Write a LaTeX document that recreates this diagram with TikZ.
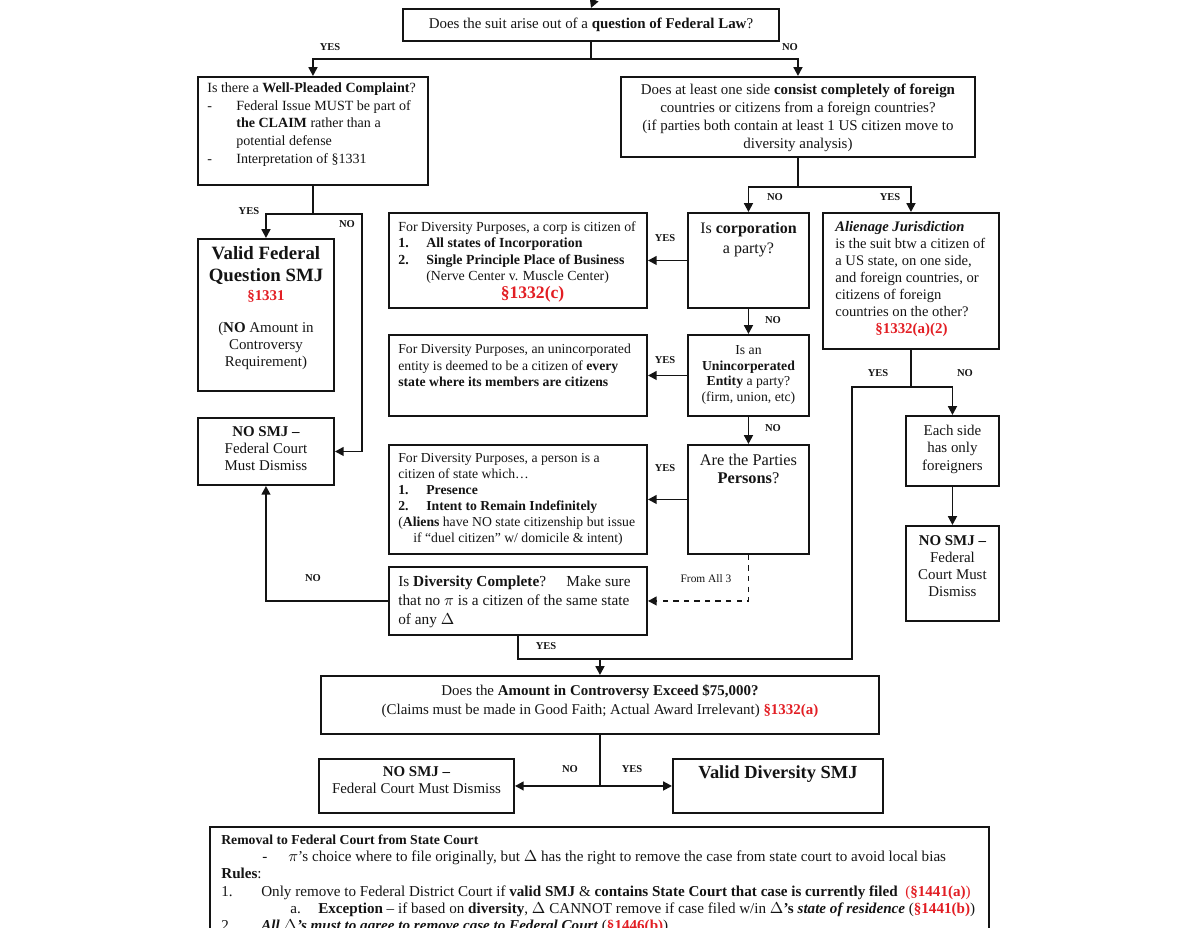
\documentclass[tikz,border=0pt]{standalone}
\usepackage{fontspec}
\setmainfont{Liberation Serif}
\usepackage{tikz}
\usetikzlibrary{positioning, arrows.meta}
\definecolor{inkColor}{RGB}{20, 20, 20}
\definecolor{lawRed}{RGB}{226, 30, 36}
\tikzset{
    flow_box/.style={
        draw=inkColor,
        line width=1.1pt,
        anchor=north west,
        inner sep=0pt
    },
    box_size/.style 2 args={
        minimum width=#1*0.02cm,
        minimum height=#2*0.02cm
    },
    box_text/.style={
        inner sep=0pt,
        text=inkColor,
        align=center,
        font=\fontsize{8.5}{9.8}\selectfont
    },
    flow_line/.style={
        draw=inkColor,
        line width=1.1pt
    },
    flow_edge/.style={
        flow_line,
        -{Triangle[length=5pt,width=5pt]}
    },
    answer_label/.style={
        inner sep=0pt,
        text=inkColor,
        font=\fontsize{6}{7}\selectfont\bfseries
    }
}

\begin{document}
\begin{tikzpicture}[x=0.02cm, y=-0.02cm]
    \clip (0,0) rectangle (1200,927);

    % first questions
    \coordinate (entry) at (598,-10);
    \node[flow_box, box_size={376}{32}] (fed_q) at (402,8) {};
    \node[box_text] at (fed_q.center) {Does the suit arise out of a \textbf{question of Federal Law}?};

    \node[flow_box, box_size={230}{108}] (wpc) at (197,76) {};
    \node[box_text, align=left, font=\fontsize{8}{10.2}\selectfont, below right=0.12cm and 0.2cm of wpc.north west] {Is there a \textbf{Well-Pleaded Complaint}?\\
        \makebox[0.58cm][l]{-}Federal Issue MUST be part of\\
        \hspace*{0.58cm}\textbf{the CLAIM} rather than a\\
        \hspace*{0.58cm}potential defense\\
        \makebox[0.58cm][l]{-}Interpretation of §1331};

    \node[flow_box, box_size={354}{80}] (foreign_q) at (620,76) {};
    \node[box_text, font=\fontsize{8.5}{10.2}\selectfont, below=0.16cm of foreign_q.north] {Does at least one side \textbf{consist completely of foreign}\\
        countries or citizens from a foreign countries?\\
        (if parties both contain at least 1 US citizen move to\\
        diversity analysis)};

    % federal question side
    \node[flow_box, box_size={136}{152}] (valid_fed) at (197,238) {};
    \node[box_text, below=0.16cm of valid_fed.north] {{\fontsize{10.7}{12.5}\selectfont\bfseries Valid Federal}\\[3pt]
        {\fontsize{10.7}{12.5}\selectfont\bfseries Question SMJ}\\[1pt]
        \textcolor{lawRed}{\textbf{§1331}}\\[8pt]
        (\textbf{NO} Amount in\\
        Controversy\\
        Requirement)};

    \node[flow_box, box_size={136}{67}] (no_smj_left) at (197,417) {};
    \node[box_text, below=0.18cm of no_smj_left.north] {\textbf{NO SMJ --}\\ Federal Court\\ Must Dismiss};

    % citizenship rules
    \node[flow_box, box_size={258}{95}] (corp_info) at (388,212) {};
    \node[box_text, align=left, font=\fontsize{7.9}{9.4}\selectfont, below right=0.18cm and 0.2cm of corp_info.north west] {For Diversity Purposes, a corp is citizen of\\
        \makebox[0.56cm][l]{\textbf{1.}}\textbf{All states of Incorporation}\\
        \makebox[0.56cm][l]{\textbf{2.}}\textbf{Single Principle Place of Business}\\
        \hspace*{0.56cm}(Nerve Center v. Muscle Center)\\[1pt]
        \hspace*{2.05cm}{\fontsize{10}{11}\selectfont\textcolor{lawRed}{\textbf{§1332(c)}}}};

    \node[flow_box, box_size={258}{81}] (unincorp_info) at (388,334) {};
    \node[box_text, align=left, font=\fontsize{7.8}{9.4}\selectfont, below right=0.2cm and 0.2cm of unincorp_info.north west] {For Diversity Purposes, an unincorporated\\
        entity is deemed to be a citizen of \textbf{every}\\
        \textbf{state where its members are citizens}};

    \node[flow_box, box_size={258}{109}] (person_info) at (388,444) {};
    \node[box_text, align=left, font=\fontsize{7.8}{9.1}\selectfont, below right=0.18cm and 0.2cm of person_info.north west] {For Diversity Purposes, a person is a\\
        citizen of state which\ldots\\
        \makebox[0.56cm][l]{\textbf{1.}}\textbf{Presence}\\
        \makebox[0.56cm][l]{\textbf{2.}}\textbf{Intent to Remain Indefinitely}\\
        (\textbf{Aliens} have NO state citizenship but issue\\
        \hspace*{0.3cm}if ``duel citizen'' w/ domicile \& intent)};

    \node[flow_box, box_size={258}{68}] (div_complete) at (388,566) {};
    \node[box_text, align=left, font=\fontsize{8.7}{10.8}\selectfont, below right=0.2cm and 0.2cm of div_complete.north west] {Is \textbf{Diversity Complete}? \quad Make sure\\
        that no $\pi$ is a citizen of the same state\\
        of any $\Delta$};

    % party questions
    \node[flow_box, box_size={121}{95}] (corp_q) at (687,212) {};
    \node[box_text, font=\fontsize{9.1}{11.4}\selectfont, below=0.2cm of corp_q.north] {Is \textbf{corporation}\\ a party?};

    \node[flow_box, box_size={121}{81}] (unincorp_q) at (687,334) {};
    \node[box_text, font=\fontsize{7.8}{9}\selectfont, below=0.22cm of unincorp_q.north] {Is an\\ \textbf{Unincorperated}\\ \textbf{Entity} a party?\\ (firm, union, etc)};

    \node[flow_box, box_size={121}{109}] (persons_q) at (687,444) {};
    \node[box_text, font=\fontsize{9.3}{10.4}\selectfont, below=0.2cm of persons_q.north] {Are the Parties\\ \textbf{Persons}?};

    % alienage side
    \node[flow_box, box_size={176}{136}] (alienage) at (822,212) {};
    \node[box_text, align=left, font=\fontsize{8.3}{9.7}\selectfont, below right=0.18cm and 0.26cm of alienage.north west] {\textbf{\textit{Alienage Jurisdiction}}\\
        is the suit btw a citizen of\\
        a US state, on one side,\\
        and foreign countries, or\\
        citizens of foreign\\
        countries on the other?\\
        \hspace*{0.8cm}{\fontsize{8.5}{9.7}\selectfont\textcolor{lawRed}{\textbf{§1332(a)(2)}}}};

    \node[flow_box, box_size={93}{70}] (each_side) at (905,415) {};
    \node[box_text, below=0.2cm of each_side.north] {Each side\\ has only\\ foreigners};

    \node[flow_box, box_size={93}{95}] (no_smj_right) at (905,525) {};
    \node[box_text, below=0.2cm of no_smj_right.north] {\textbf{NO SMJ --}\\ Federal\\ Court Must\\ Dismiss};

    % amount in controversy
    \node[flow_box, box_size={558}{58}] (amount) at (320,675) {};
    \node[box_text, font=\fontsize{8.5}{10.8}\selectfont, below=0.18cm of amount.north] {Does the \textbf{Amount in Controversy Exceed \$75,000?}\\
        (Claims must be made in Good Faith; Actual Award Irrelevant) \textcolor{lawRed}{\textbf{§1332(a)}}};

    \node[flow_box, box_size={195}{54}] (no_smj_bottom) at (318,758) {};
    \node[box_text, below=0.16cm of no_smj_bottom.north] {\textbf{NO SMJ --}\\ Federal Court Must Dismiss};

    \node[flow_box, box_size={210}{54}] (valid_div) at (672,758) {};
    \node[box_text, font=\fontsize{10.5}{12.5}\selectfont\bfseries, below=0.14cm of valid_div.north] {Valid Diversity SMJ};

    % removal notes
    \node[flow_box, box_size={779}{150}] (removal) at (209,826) {};
    \node[box_text, align=left, anchor=north west, font=\fontsize{8.6}{9.9}\selectfont] (removal_text) at (221,834) {{\fontsize{7.8}{9.9}\selectfont\textbf{Removal to Federal Court from State Court}}\\
        \hspace*{0.82cm}\makebox[0.52cm][l]{-}$\pi$'s choice where to file originally, but $\Delta$ has the right to remove the case from state court to avoid local bias\\
        \textbf{Rules}:\\
        \makebox[0.8cm][l]{1.}Only remove to Federal District Court if \textbf{valid SMJ} \& \textbf{contains State Court that case is currently filed}\ \ \textcolor{lawRed}{(\textbf{§1441(a)})}\\
        \hspace*{1.38cm}\makebox[0.56cm][l]{a.}\textbf{Exception} -- if based on \textbf{diversity}, $\Delta$ CANNOT remove if case filed w/in \textbf{$\Delta$'s \textit{state of residence}} (\textcolor{lawRed}{\textbf{§1441(b)}})\\
        \makebox[0.8cm][l]{2.}\textbf{\textit{All $\Delta$'s must to agree to remove case to Federal Court}} (\textcolor{lawRed}{\textbf{§1446(b)}})};

    % connectors
    \draw[flow_edge] (entry) -- (fed_q.north);
    \draw[flow_line] (fed_q.south) -- ++(0,17) coordinate (fed_fork);
    \draw[flow_edge] (fed_fork) -| (wpc.north);
    \draw[flow_edge] (fed_fork) -| (foreign_q.north);

    \draw[flow_line] (wpc.south) -- ++(0,28) coordinate (wpc_fork);
    \draw[flow_edge] (wpc_fork) -| (valid_fed.north);
    \draw[flow_edge] (wpc_fork) -| ([xshift=0.54cm]no_smj_left.east) -- (no_smj_left.east);

    \draw[flow_line] (foreign_q.south) -- ++(0,29) coordinate (foreign_fork);
    \draw[flow_edge] (foreign_fork) -| (corp_q.north);
    \draw[flow_edge] (foreign_fork) -| (alienage.north);

    \draw[flow_edge] (corp_q.west) -- (corp_info.east);
    \draw[flow_edge] (corp_q.south) -- (unincorp_q.north);
    \draw[flow_edge] (unincorp_q.west) -- (unincorp_info.east);
    \draw[flow_edge] (unincorp_q.south) -- (persons_q.north);
    \draw[flow_edge] (persons_q.west) -- (person_info.east);
    \draw[flow_edge, dashed] (persons_q.south) |- (div_complete.east);
    \draw[flow_edge] (div_complete.west) -| (no_smj_left.south);

    \draw[flow_line] (alienage.south) -- ++(0,37) coordinate (alien_fork);
    \draw[flow_edge] (alien_fork) -| (each_side.north);
    \draw[flow_edge] (each_side.south) -- (no_smj_right.north);
    \draw[flow_line] (div_complete.south) -- ++(0,23) coordinate (div_join)
        -| ([xshift=-1.18cm]alien_fork) -- (alien_fork);
    \draw[flow_edge] (div_join -| amount.north) -- (amount.north);

    \draw[flow_line] (amount.south) -- (amount.south |- no_smj_bottom.east) coordinate (amount_fork);
    \draw[flow_edge] (amount_fork) -- (no_smj_bottom.east);
    \draw[flow_edge] (amount_fork) -- (valid_div.west);

    % answers on the branches
    \node[answer_label] at (330,47) {YES};
    \node[answer_label] at (790,47) {NO};
    \node[answer_label] at (249,211) {YES};
    \node[answer_label] at (347,224) {NO};
    \node[answer_label] at (775,197) {NO};
    \node[answer_label] at (890,197) {YES};
    \node[answer_label] at (665,238) {YES};
    \node[answer_label] at (773,320) {NO};
    \node[answer_label] at (665,360) {YES};
    \node[answer_label] at (773,428) {NO};
    \node[answer_label] at (665,468) {YES};
    \node[box_text, font=\fontsize{6.5}{7}\selectfont] at (706,579) {From All 3};
    \node[answer_label] at (878,373) {YES};
    \node[answer_label] at (965,373) {NO};
    \node[answer_label] at (313,578) {NO};
    \node[answer_label] at (546,646) {YES};
    \node[answer_label] at (570,769) {NO};
    \node[answer_label] at (632,769) {YES};
\end{tikzpicture}
\end{document}
